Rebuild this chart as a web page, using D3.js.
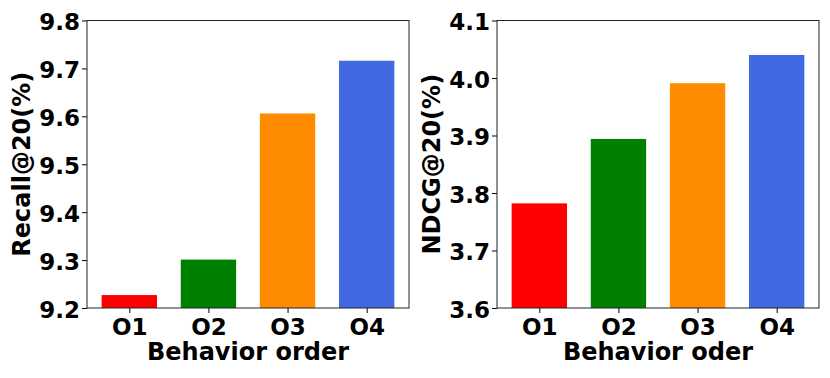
<!DOCTYPE html>
<html>
<head>
<meta charset="utf-8">
<script src="https://cdn.jsdelivr.net/npm/d3@7"></script>
<style>
  body { margin: 0; background: #fff; }
  svg text { font-family: "DejaVu Sans", sans-serif; font-weight: bold; fill: #000; }
</style>
</head>
<body>
<svg id="chart" width="830" height="378"></svg>
<script>
// categories and values
const orders = ['O1', 'O2', 'O3', 'O4'];
const barColors = ['#ff0000', '#008000', '#ff8c00', '#4169e1'];
const recall = [9.227, 9.301, 9.606, 9.716];
const ndcg = [3.782, 3.894, 3.991, 4.040];
const recallTicks = [9.2, 9.3, 9.4, 9.5, 9.6, 9.7, 9.8];
const ndcgTicks = [3.6, 3.7, 3.8, 3.9, 4.0, 4.1];

const svg = d3.select('#chart');

// draw one matplotlib-style bar panel
function drawPanel(opts) {
    const top = 20.5, bottom = 308;
    const g = svg.append('g');

    const x = d3.scaleLinear().domain([-0.535, 3.535]).range([opts.left, opts.right]);
    const y = d3.scaleLinear().domain(opts.domain).range([bottom, top]);

    // bars
    g.selectAll('rect.bar')
        .data(opts.values)
        .enter()
        .append('rect')
        .attr('class', 'bar')
        .attr('x', (d, i) => x(i - 0.35))
        .attr('width', x(0.7) - x(0))
        .attr('y', d => y(d))
        .attr('height', d => bottom - y(d))
        .attr('fill', (d, i) => barColors[i]);

    // y axis
    const yAxis = d3.axisLeft(y)
        .tickValues(opts.ticks)
        .tickFormat(d3.format('.1f'))
        .tickSize(5)
        .tickPadding(2);
    g.append('g')
        .attr('transform', `translate(${opts.left},0)`)
        .call(yAxis)
        .call(a => a.select('.domain').remove())
        .call(a => a.selectAll('text').style('font-size', '23px').attr('dy', '0.4em'))
        .call(a => a.selectAll('line').attr('stroke', '#000'));

    // x axis
    const xAxis = d3.axisBottom(x)
        .tickValues([0, 1, 2, 3])
        .tickFormat(i => orders[i])
        .tickSize(5)
        .tickPadding(4);
    g.append('g')
        .attr('transform', `translate(0,${bottom})`)
        .call(xAxis)
        .call(a => a.select('.domain').remove())
        .call(a => a.selectAll('text').style('font-size', '23px').attr('dy', '0.8em'))
        .call(a => a.selectAll('line').attr('stroke', '#000'));

    // frame
    g.append('rect')
        .attr('x', opts.left)
        .attr('y', top)
        .attr('width', opts.right - opts.left)
        .attr('height', bottom - top)
        .attr('fill', 'none')
        .attr('stroke', '#222')
        .attr('stroke-width', 1);

    // axis titles
    g.append('text')
        .attr('x', (opts.left + opts.right) / 2)
        .attr('y', 360)
        .attr('text-anchor', 'middle')
        .style('font-size', '24px')
        .text(opts.xTitle);

    g.append('text')
        .attr('transform', `translate(${opts.yTitleX},${(top + bottom) / 2}) rotate(-90)`)
        .attr('text-anchor', 'middle')
        .style('font-size', '24px')
        .text(opts.yTitle);
}

drawPanel({
    left: 87, right: 409,
    domain: [9.2, 9.8], ticks: recallTicks, values: recall,
    xTitle: 'Behavior order', yTitle: 'Recall@20(%)', yTitleX: 30
});

drawPanel({
    left: 497, right: 819,
    domain: [3.6, 4.1], ticks: ndcgTicks, values: ndcg,
    xTitle: 'Behavior oder', yTitle: 'NDCG@20(%)', yTitleX: 440
});
</script>
</body>
</html>
